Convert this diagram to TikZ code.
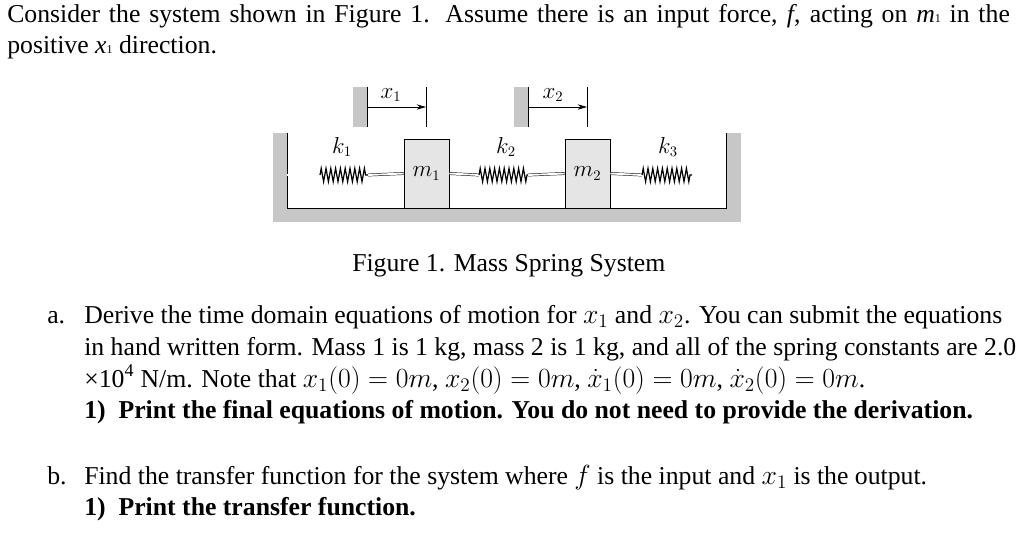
\documentclass[tikz,border=0pt]{standalone}
\usepackage{fontspec}
\setmainfont{Liberation Serif}
\newfontfamily\tfont{Liberation Serif}
\usetikzlibrary{decorations.pathmorphing,arrows.meta}
\begin{document}
\begin{tikzpicture}[x=0.75pt,y=-0.75pt,
  txt/.style={anchor=base west,inner sep=0pt,font=\tfont\fontsize{19.3}{23}\selectfont},
  lbl/.style={inner sep=0pt,font=\tfont\fontsize{16}{19}\selectfont},
  wall/.style={fill=black!22,draw=none},
  mass/.style={draw,fill=black!10,line width=0.6pt},
  rod/.style={draw=black,double=white,line width=0.35pt,double distance=1.4pt},
  coil/.style={line width=0.9pt,decorate,decoration={zigzag,amplitude=5pt,segment length=3.6pt}}]
\useasboundingbox (0,0) rectangle (1024,540);
% text
\node[txt] (l1) at (7,22) {\makebox[752pt][s]{Consider the system shown in Figure 1. Assume there is an input force, \textit{f}, acting on \textit{m}{\small 1} in the}};
\node[txt] (l2) at (7,53) {positive \textit{x}{\small 1} direction.};
% figure
\fill[wall] (273,133) rectangle (287,222);
\fill[wall] (726,133) rectangle (741,222);
\fill[wall] (273,208) rectangle (741,222);
\draw[line width=0.6pt] (287,133) -- (287,208) -- (726,208) -- (726,133);
\node[mass,minimum width=33.75pt,minimum height=51.75pt] (m1) at (426.5,173.5) {};
\node[mass,minimum width=33.75pt,minimum height=51.75pt] (m2) at (587.5,173.5) {};
\node[lbl] at (m1) {$m_1$};
\node[lbl] at (m2) {$m_2$};
\coordinate (wl) at (287,175); \coordinate (wr) at (726,175);
\coordinate (a1) at (320,175); \coordinate (b1) at (368,175);
\coordinate (a2) at (479,175); \coordinate (b2) at (528,175);
\coordinate (a3) at (642,175); \coordinate (b3) at (692,175);
\draw[rod] (wl) -- (a1); \draw[rod] (b1) -- (m1.west);
\draw[rod] (m1.east) -- (a2); \draw[rod] (b2) -- (m2.west);
\draw[rod] (m2.east) -- (a3); \draw[rod] (b3) -- (wr);
\draw[coil] (a1) -- (b1);
\draw[coil] (a2) -- (b2);
\draw[coil] (a3) -- (b3);
\node[lbl] at (342,147) {$k_1$};
\node[lbl] at (506,147) {$k_2$};
\node[lbl] at (668,147) {$k_3$};
% displacement markers
\fill[wall] (353,87) rectangle (367,127);
\fill[wall] (514,87) rectangle (528,127);
\draw[line width=0.5pt] (367,87) -- (367,127);
\draw[line width=0.5pt] (528,87) -- (528,127);
\draw[line width=0.5pt] (426,87) -- (426,127);
\draw[line width=0.5pt] (587,87) -- (587,127);
\coordinate (s1) at (367,107); \coordinate (e1) at (426,107);
\coordinate (s2) at (528,107); \coordinate (e2) at (587,107);
\draw[line width=0.5pt,-{Stealth[length=7pt,width=4pt]}] (s1) -- (e1);
\draw[line width=0.5pt,-{Stealth[length=7pt,width=4pt]}] (s2) -- (e2);
\node[lbl] at (391,95) {$x_1$};
\node[lbl] at (553,95) {$x_2$};
% caption
\node[txt] (cap) at (352,271) {Figure 1. Mass Spring System};
% part a
\node[txt] (a) at (47,323) {a.};
\node[txt] (a1t) at (84,323) {Derive the time domain equations of motion for $x_1$ and $x_2$. You can submit the equations};
\node[txt] (a2t) at (84,355) {in hand written form. Mass 1 is 1 kg, mass 2 is 1 kg, and all of the spring constants are 2.0};
\node[txt] (a3t) at (84,387) {×10\textsuperscript{4} N/m. Note that $x_1(0)=0m$, $x_2(0)=0m$, $\dot{x}_1(0)=0m$, $\dot{x}_2(0)=0m$.};
\node[txt] (a4t) at (84,418) {\textbf{1)\enspace Print the final equations of motion. You do not need to provide the derivation.}};
% part b
\node[txt] (b) at (47,484) {b.};
\node[txt] (b1t) at (84,484) {Find the transfer function for the system where $f$ is the input and $x_1$ is the output.};
\node[txt] (b2t) at (84,515) {\textbf{1)\enspace Print the transfer function.}};
\end{tikzpicture}
\end{document}
